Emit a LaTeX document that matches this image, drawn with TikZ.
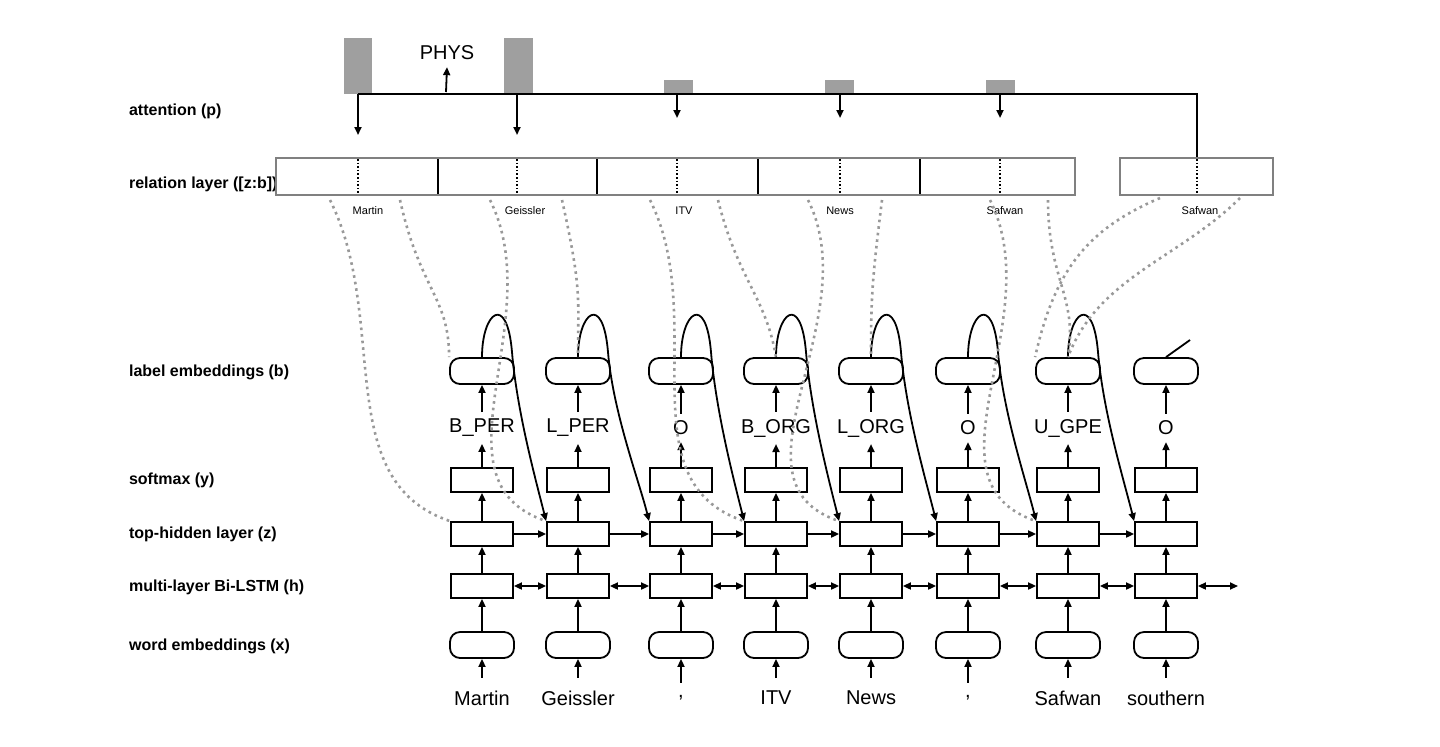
\documentclass[tikz,border=0pt]{standalone}
\usepackage{fontspec}
\setmainfont{Liberation Sans}
\usetikzlibrary{arrows.meta,positioning}
\tikzset{
  arr/.style={-{Triangle[length=4pt,width=3.5pt]},line width=0.9pt},
  darr/.style={{Triangle[length=4pt,width=3.5pt]}-{Triangle[length=4pt,width=3.5pt]},line width=0.9pt},
  emb/.style={draw,line width=0.9pt,rounded corners=5pt,minimum width=32pt,minimum height=13pt,inner sep=0},
  cell/.style={draw,line width=0.9pt,minimum width=31pt,minimum height=12pt,inner sep=0},
  rowlab/.style={anchor=west,font=\bfseries\fontsize{8}{9}\selectfont},
  tag/.style={font=\fontsize{10}{11}\selectfont},
  small/.style={font=\fontsize{5.5}{6}\selectfont},
  dots/.style={dotted,line width=1.3pt,gray!80},
  bar/.style={fill=gray!75,draw=none}
}
\begin{document}
\begin{tikzpicture}[x=0.5pt,y=-0.5pt]
\useasboundingbox (0,0) rectangle (1440,746);
% row labels
\node[rowlab] (la) at (122,111) {attention (p)};
\node[rowlab] (lr) at (122,184) {relation layer ([z:b])};
\node[rowlab] (lb) at (122,372) {label embeddings (b)};
\node[rowlab] (ly) at (122,480) {softmax (y)};
\node[rowlab] (lz) at (122,534) {top-hidden layer (z)};
\node[rowlab] (lh) at (122,587) {multi-layer Bi-LSTM (h)};
\node[rowlab] (lx) at (122,646) {word embeddings (x)};
% columns
\foreach \i/\x/\w/\t in {1/482/Martin/B\_PER,2/578/Geissler/L\_PER,3/681/{,}/O,4/776/ITV/B\_ORG,5/871/News/L\_ORG,6/968/{,}/O,7/1068/Safwan/U\_GPE,8/1166/southern/O}{
  \node[tag] (w\i) at (\x,698) {\w};
  \node[emb] (x\i) at (\x,645) {};
  \node[cell] (h\i) at (\x,586) {};
  \node[cell] (z\i) at (\x,534) {};
  \node[cell] (y\i) at (\x,480) {};
  \node[tag] (t\i) at (\x,428) {\t};
  \node[emb] (b\i) at (\x,371) {};
  \draw[arr] (w\i.north) ++(0,-6) coordinate (wa\i) -- (x\i);
  \draw[arr] (x\i) -- (h\i);
  \draw[arr] (h\i) -- (z\i);
  \draw[arr] (z\i) -- (y\i);
  \draw[arr] (y\i) -- (t\i);
  \draw[arr] (t\i) -- (b\i);
}
\foreach \i/\j in {1/2,2/3,3/4,4/5,5/6,6/7,7/8}{
  \draw[arr] (z\i) -- (z\j);
  \draw[darr] (h\i) -- (h\j);
  \draw[arr] (b\i.north) .. controls +(0,-45) and +(-5,-60) .. ++(30,-5) .. controls +(5,60) and +(-10,-40) .. (z\j.north west);
}
\coordinate (hend) at (1238,586);
\draw[darr] (h8) -- (hend);
\coordinate (slash) at (1190,340);
\draw[line width=0.9pt] (b8.north) -- (slash);
% relation layer
\node[draw=gray,line width=1pt,minimum width=399.5pt,minimum height=18.5pt,inner sep=0] (rel) at (675.5,176.5) {};
\node[draw=gray,line width=1pt,minimum width=76.5pt,minimum height=18.5pt,inner sep=0] (rel2) at (1196.5,176.5) {};
\foreach \x in {438,597,758,920}{\draw[line width=1.4pt] (\x,159) -- (\x,194);}
\foreach \x in {358,517,677,840,1000,1197}{\draw[densely dotted,line width=0.8pt] (\x,159) -- (\x,194);}
\foreach \n/\x/\s in {m/368/Martin,g/525/Geissler,i/684/ITV,n/840/News,s/1005/Safwan,t/1200/Safwan}{
  \node[small] (r\n) at (\x,211) {\s};
}
% dotted links
\foreach \a/\c/\cc in {330/z1/b1,490/z2/b2,650/z4/b4,808/z5/b5,990/z7/b7}{
  \coordinate (s\a) at (\a,200);
  \draw[dots] (s\a) .. controls +(60,120) and +(-120,-40) .. (\c.north west);
}
\draw[dots] (400,200) .. controls +(20,90) and +(0,-60) .. (b1.north west);
\draw[dots] (562,200) .. controls +(20,90) and +(0,-60) .. (b2.north);
\draw[dots] (718,200) .. controls +(20,80) and +(-10,-60) .. (b4.north);
\draw[dots] (882,200) .. controls +(-10,80) and +(0,-60) .. (b5.north);
\draw[dots] (1048,200) .. controls +(0,80) and +(10,-60) .. (b7.north);
\draw[dots] (1160,198) .. controls +(-70,30) and +(20,-90) .. (b7.north west);
\draw[dots] (1240,198) .. controls +(-60,60) and +(30,-80) .. (b7.north);
% attention
\draw[bar] (344,38) rectangle (372,94);
\draw[bar] (504,38) rectangle (533,94);
\foreach \x in {664,825,986}{\draw[bar] (\x,80) rectangle (\x+29,94);}
\coordinate (aL) at (358,94);
\coordinate (aR) at (1197,94);
\draw[line width=1.3pt] (aL) -- (aR) -- (rel2.north -| aR);
\foreach \x/\e in {358/135,517/135,677/118,840/118,1000/118}{
  \draw[arr,line width=1.3pt] (\x,94) -- (\x,\e);
}
\node[tag] (phys) at (447,53) {PHYS};
\coordinate (pb) at (446,92);
\draw[arr] (pb) -- (phys.south);
\end{tikzpicture}
\end{document}
